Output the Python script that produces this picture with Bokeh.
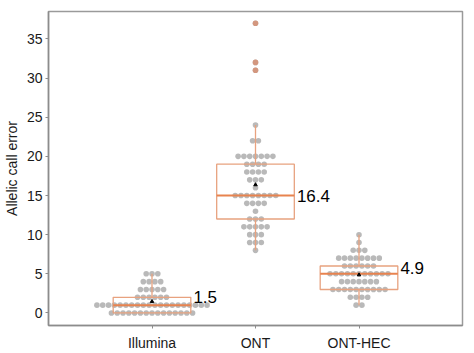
import numpy as np
from bokeh.plotting import figure
from bokeh.models import FixedTicker, Range1d
from bokeh.core.properties import value
from bokeh.embed import file_html
from bokeh.resources import INLINE

# ---- data ----
categories = ["Illumina", "ONT", "ONT-HEC"]
illumina_levels = [0, 1, 2, 3, 4, 5]
illumina_counts = [15, 20, 6, 5, 4, 3]
ont_levels = [8, 9, 10, 11, 12, 13, 14, 15, 16, 17, 18, 19, 20, 22, 24, 31, 32, 37]
ont_counts = [1, 3, 3, 5, 3, 1, 4, 8, 1, 3, 4, 4, 7, 2, 1, 1, 1, 1]
hec_levels = [1, 2, 3, 4, 5, 6, 7, 8, 9, 10]
hec_counts = [2, 4, 10, 7, 11, 6, 8, 3, 1, 1]
mean_label_y = [2.1, 14.9, 5.7]   # where the mean labels sit on the y axis
y_ticks = [0, 5, 10, 15, 20, 25, 30, 35]

groups = [(illumina_levels, illumina_counts),
          (ont_levels, ont_counts),
          (hec_levels, hec_counts)]

FONT = "Liberation Sans"
BOX_COL = "#e8a27f"
MED_COL = "#e8834f"
DOT_COL = "#b5b5b5"
OUT_COL = "#dc8c6c"

p = figure(width=474, height=353, output_backend="svg", toolbar_location=None,
           x_range=Range1d(0, 4), y_range=Range1d(-1.6, 38.5),
           min_border_left=48, min_border_right=12, min_border_top=11,
           min_border_bottom=22)
p.xgrid.visible = False
p.ygrid.visible = False
p.outline_line_color = "#9a9a9a"
p.outline_line_width = 1.5

dx = 0.056
for gi, (levels, counts) in enumerate(groups):
    cx = gi + 1
    vals = np.repeat(np.array(levels, dtype=float), counts)
    q1, med, q3 = np.percentile(vals, [25, 50, 75])
    iqr = q3 - q1
    lo = vals[vals >= q1 - 1.5 * iqr].min()
    hi = vals[vals <= q3 + 1.5 * iqr].max()
    mean = vals.mean()
    xs, ys = [], []
    for lev, c in zip(levels, counts):
        for i in range(c):
            xs.append(cx + (i - (c - 1) / 2) * dx)
            ys.append(lev)
    p.scatter(xs, ys, size=5.6, color=DOT_COL, alpha=0.95, line_width=0)
    outs = vals[(vals < lo) | (vals > hi)]
    if len(outs):
        p.scatter([cx] * len(outs), list(outs), size=5.6, color=OUT_COL,
                  alpha=0.75, line_width=0)
    hw = 0.375
    p.quad(left=[cx - hw], right=[cx + hw], bottom=[q1], top=[q3],
           fill_alpha=0, line_color=BOX_COL, line_width=1.3)
    p.segment(x0=[cx, cx], y0=[q3, q1], x1=[cx, cx], y1=[hi, lo],
              line_color=BOX_COL, line_width=1.3)
    p.segment(x0=[cx - hw], y0=[med], x1=[cx + hw], y1=[med],
              line_color=MED_COL, line_width=2)
    p.scatter([cx], [mean], marker="triangle", size=3.5, color="black")
    p.text([cx + hw + 0.025], [mean_label_y[gi]], text=[f"{mean:.1f}"],
           text_font=value(FONT), text_font_size="17px",
           text_baseline="middle", text_align="left", text_color="black")

p.xaxis.ticker = FixedTicker(ticks=[1, 2, 3])
p.xaxis.major_label_overrides = {1: categories[0], 2: categories[1], 3: categories[2]}
p.yaxis.ticker = FixedTicker(ticks=y_ticks)
p.yaxis.axis_label = "Allelic call error"
for ax in (p.xaxis, p.yaxis):
    ax.axis_line_color = "#8c8c8c"
    ax.axis_line_width = 1.5
    ax.major_tick_line_color = "#8c8c8c"
    ax.major_tick_out = 3
    ax.major_tick_in = 0
    ax.minor_tick_line_color = None
    ax.major_label_text_font = FONT
    ax.major_label_text_font_size = "14px"
    ax.major_label_text_color = "#1a1a1a"
    ax.axis_label_text_font = FONT
    ax.axis_label_text_font_style = "normal"
    ax.axis_label_text_font_size = "14px"
    ax.axis_label_text_color = "#1a1a1a"
p.xaxis.major_label_standoff = 6
p.yaxis.major_label_standoff = 3
p.yaxis.axis_label_standoff = 4

open("out.html", "w").write(file_html(p, INLINE))
